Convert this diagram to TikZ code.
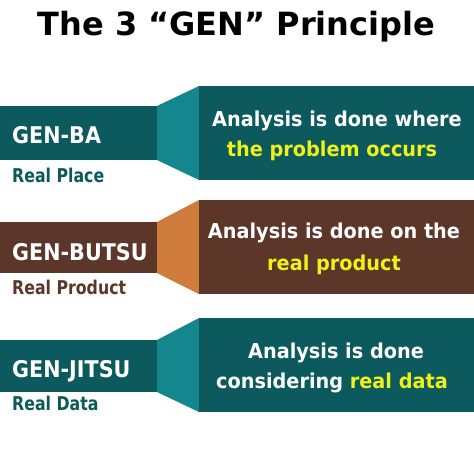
\documentclass[tikz,border=0pt]{standalone}
\usepackage{fontspec}
\setmainfont{DejaVu Sans}[FakeStretch=0.9]
\newfontfamily\titlefont{DejaVu Sans}
\newfontfamily\rtfont{DejaVu Sans}[FakeStretch=0.94]
\newfontfamily\subfont{DejaVu Sans}[FakeStretch=0.83]
\definecolor{tealdark}{HTML}{0C5A5D}
\definecolor{tealfun}{HTML}{13878D}
\definecolor{browndark}{HTML}{5C3629}
\definecolor{orangefun}{HTML}{CF7B3B}
\definecolor{yel}{HTML}{EEF21A}
\tikzset{
  txt/.style={inner sep=0pt},
  lbl/.style={txt, anchor=base west, text=white, font=\bfseries\fontsize{23}{27}\selectfont},
  sub/.style={txt, anchor=base west, font=\subfont\bfseries\fontsize{19}{22}\selectfont},
  rt/.style={txt, anchor=base, text=white, font=\rtfont\bfseries\fontsize{20.5}{24}\selectfont},
}
\begin{document}
\begin{tikzpicture}[x=1pt,y=-1pt]
\useasboundingbox (0,0) rectangle (474,474);
\fill[white] (0,0) rectangle (474,474);
% title
\node[txt, anchor=base, font=\titlefont\bfseries\fontsize{32}{36}\selectfont] (title) at (236.5,35) {The 3 “GEN” Principle};
% row 1
\fill[tealdark] (0,106) rectangle (157,160);
\fill[tealfun] (157,106) -- (199,86) -- (199,180) -- (157,160) -- cycle;
\fill[tealdark] (199,86) rectangle (474,180);
\node[lbl] (l1) at (12,143) {GEN-BA};
\node[sub, text=tealdark] (s1) at (12,182) {Real Place};
\node[rt] (r1a) at (337,126) {Analysis is done where};
\node[rt] (r1b) at (332,156) {\textcolor{yel}{the problem occurs}};
% row 2
\fill[browndark] (0,222) rectangle (157,273);
\fill[orangefun] (157,222) -- (199,200) -- (199,294) -- (157,273) -- cycle;
\fill[browndark] (199,200) rectangle (474,294);
\node[lbl] (l2) at (12,260) {GEN-BUTSU};
\node[sub, text=browndark] (s2) at (12,294) {Real Product};
\node[rt] (r2a) at (334,238) {Analysis is done on the};
\node[rt] (r2b) at (334,270) {\textcolor{yel}{real product}};
% row 3
\fill[tealdark] (0,340) rectangle (157,392);
\fill[tealfun] (157,340) -- (199,318) -- (199,412) -- (157,392) -- cycle;
\fill[tealdark] (199,318) rectangle (474,412);
\node[lbl] (l3) at (12,377) {GEN-JITSU};
\node[sub, text=tealdark] (s3) at (12,410) {Real Data};
\node[rt] (r3a) at (336,358) {Analysis is done};
\node[rt] (r3b) at (332,388) {considering \textcolor{yel}{real data}};
\end{tikzpicture}
\end{document}
